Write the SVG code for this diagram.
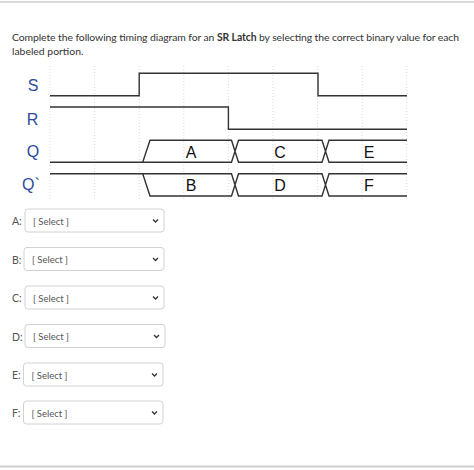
<svg xmlns="http://www.w3.org/2000/svg" width="474" height="470" viewBox="0 0 474 470">
<style>
.title{font-family:Lato,"Liberation Sans",sans-serif;font-size:10.4px;fill:#333}
.grid{stroke:#dadada;stroke-width:1;stroke-dasharray:1 2;fill:none}
.sig{stroke:#333;stroke-width:1.4;fill:none}
.sl{font-family:"Liberation Sans",Arial,sans-serif;font-size:16px;fill:#2b4a9c;text-anchor:middle}
.bl{font-family:"Liberation Sans",Arial,sans-serif;font-size:16px;fill:#111;text-anchor:middle}
.lab{font-family:Lato,"Liberation Sans",sans-serif;font-size:10.5px;fill:#555}
.ph{font-family:Lato,"Liberation Sans",sans-serif;font-size:9.5px;fill:#555}
.box{fill:#fff;stroke:#d2d2d2;stroke-width:1}
.chev{stroke:#333;stroke-width:1.3;fill:none}
.rule{stroke:#cfcfcf;fill:none}
</style>
<line class="rule" x1="0" y1="2" x2="474" y2="2" stroke-width="1.5"/>
<line class="rule" x1="0" y1="466.5" x2="474" y2="466.5" stroke-width="2"/>
<text class="title" x="12" y="41" textLength="447" lengthAdjust="spacing">Complete the following timing diagram for an <tspan font-weight="bold">SR Latch</tspan> by selecting the correct binary value for each</text>
<text class="title" x="12" y="54.5">labeled portion.</text>
<g id="grid">
<path class="grid" d="M50,66V200M94.6,66V200M139.2,66V200M183.8,66V200M228.4,66V200M273,66V200M317.6,66V200M362.2,66V200M406.8,66V200"/>
</g>
<g id="labels">
<text class="sl" x="33" y="91">S</text>
<text class="sl" x="32.5" y="125">R</text>
<text class="sl" x="33" y="157">Q</text>
<text class="sl" x="31" y="190">Q`</text>
</g>
<g id="signals">
<path id="sigS" class="sig" d="M50,95.7H139.2V73.3H318V95.7H407"/>
<path id="sigR" class="sig" d="M50,107H228.4V129.3H407"/>
<path id="sigQ" class="sig" d="M50,162.3H231.5L238.5,140.3H322L329,162.3H407M142.7,162.3L150,140.3H231.5L238.5,162.3H322L329,140.3H407"/>
<path id="sigQn" class="sig" d="M50,173.7H231.5L238.5,196H322L329,173.7H407M142.7,173.7L150,196H231.5L238.5,173.7H322L329,196H407"/>
</g>
<g id="buslabels">
<text class="bl" x="191" y="158">A</text>
<text class="bl" x="280" y="158">C</text>
<text class="bl" x="369" y="158">E</text>
<text class="bl" x="191" y="191">B</text>
<text class="bl" x="280" y="191">D</text>
<text class="bl" x="369" y="191">F</text>
</g>
<g id="selA"><text class="lab" x="12" y="225">A:</text><rect class="box" x="25" y="209" width="139" height="23" rx="3"/><text class="ph" x="33" y="224.5">[ Select ]</text><path class="chev" d="M153,219.5L155.5,222L158,219.5"/></g>
<g id="selB"><text class="lab" x="12" y="263.5">B:</text><rect class="box" x="24" y="247.5" width="140" height="23" rx="3"/><text class="ph" x="32" y="263">[ Select ]</text><path class="chev" d="M153,258L155.5,260.5L158,258"/></g>
<g id="selC"><text class="lab" x="12" y="302">C:</text><rect class="box" x="25" y="286" width="139" height="23" rx="3"/><text class="ph" x="33" y="301.5">[ Select ]</text><path class="chev" d="M153,296.5L155.5,299L158,296.5"/></g>
<g id="selD"><text class="lab" x="12" y="340.5">D:</text><rect class="box" x="25" y="324.5" width="140" height="23" rx="3"/><text class="ph" x="33" y="340">[ Select ]</text><path class="chev" d="M154,335L156.5,337.5L159,335"/></g>
<g id="selE"><text class="lab" x="12" y="379">E:</text><rect class="box" x="23.5" y="363" width="139.5" height="23" rx="3"/><text class="ph" x="31.5" y="378.5">[ Select ]</text><path class="chev" d="M152,373.5L154.5,376L157,373.5"/></g>
<g id="selF"><text class="lab" x="12" y="417">F:</text><rect class="box" x="23.5" y="401" width="139.5" height="23" rx="3"/><text class="ph" x="31.5" y="416.5">[ Select ]</text><path class="chev" d="M152,411.5L154.5,414L157,411.5"/></g>
</svg>
